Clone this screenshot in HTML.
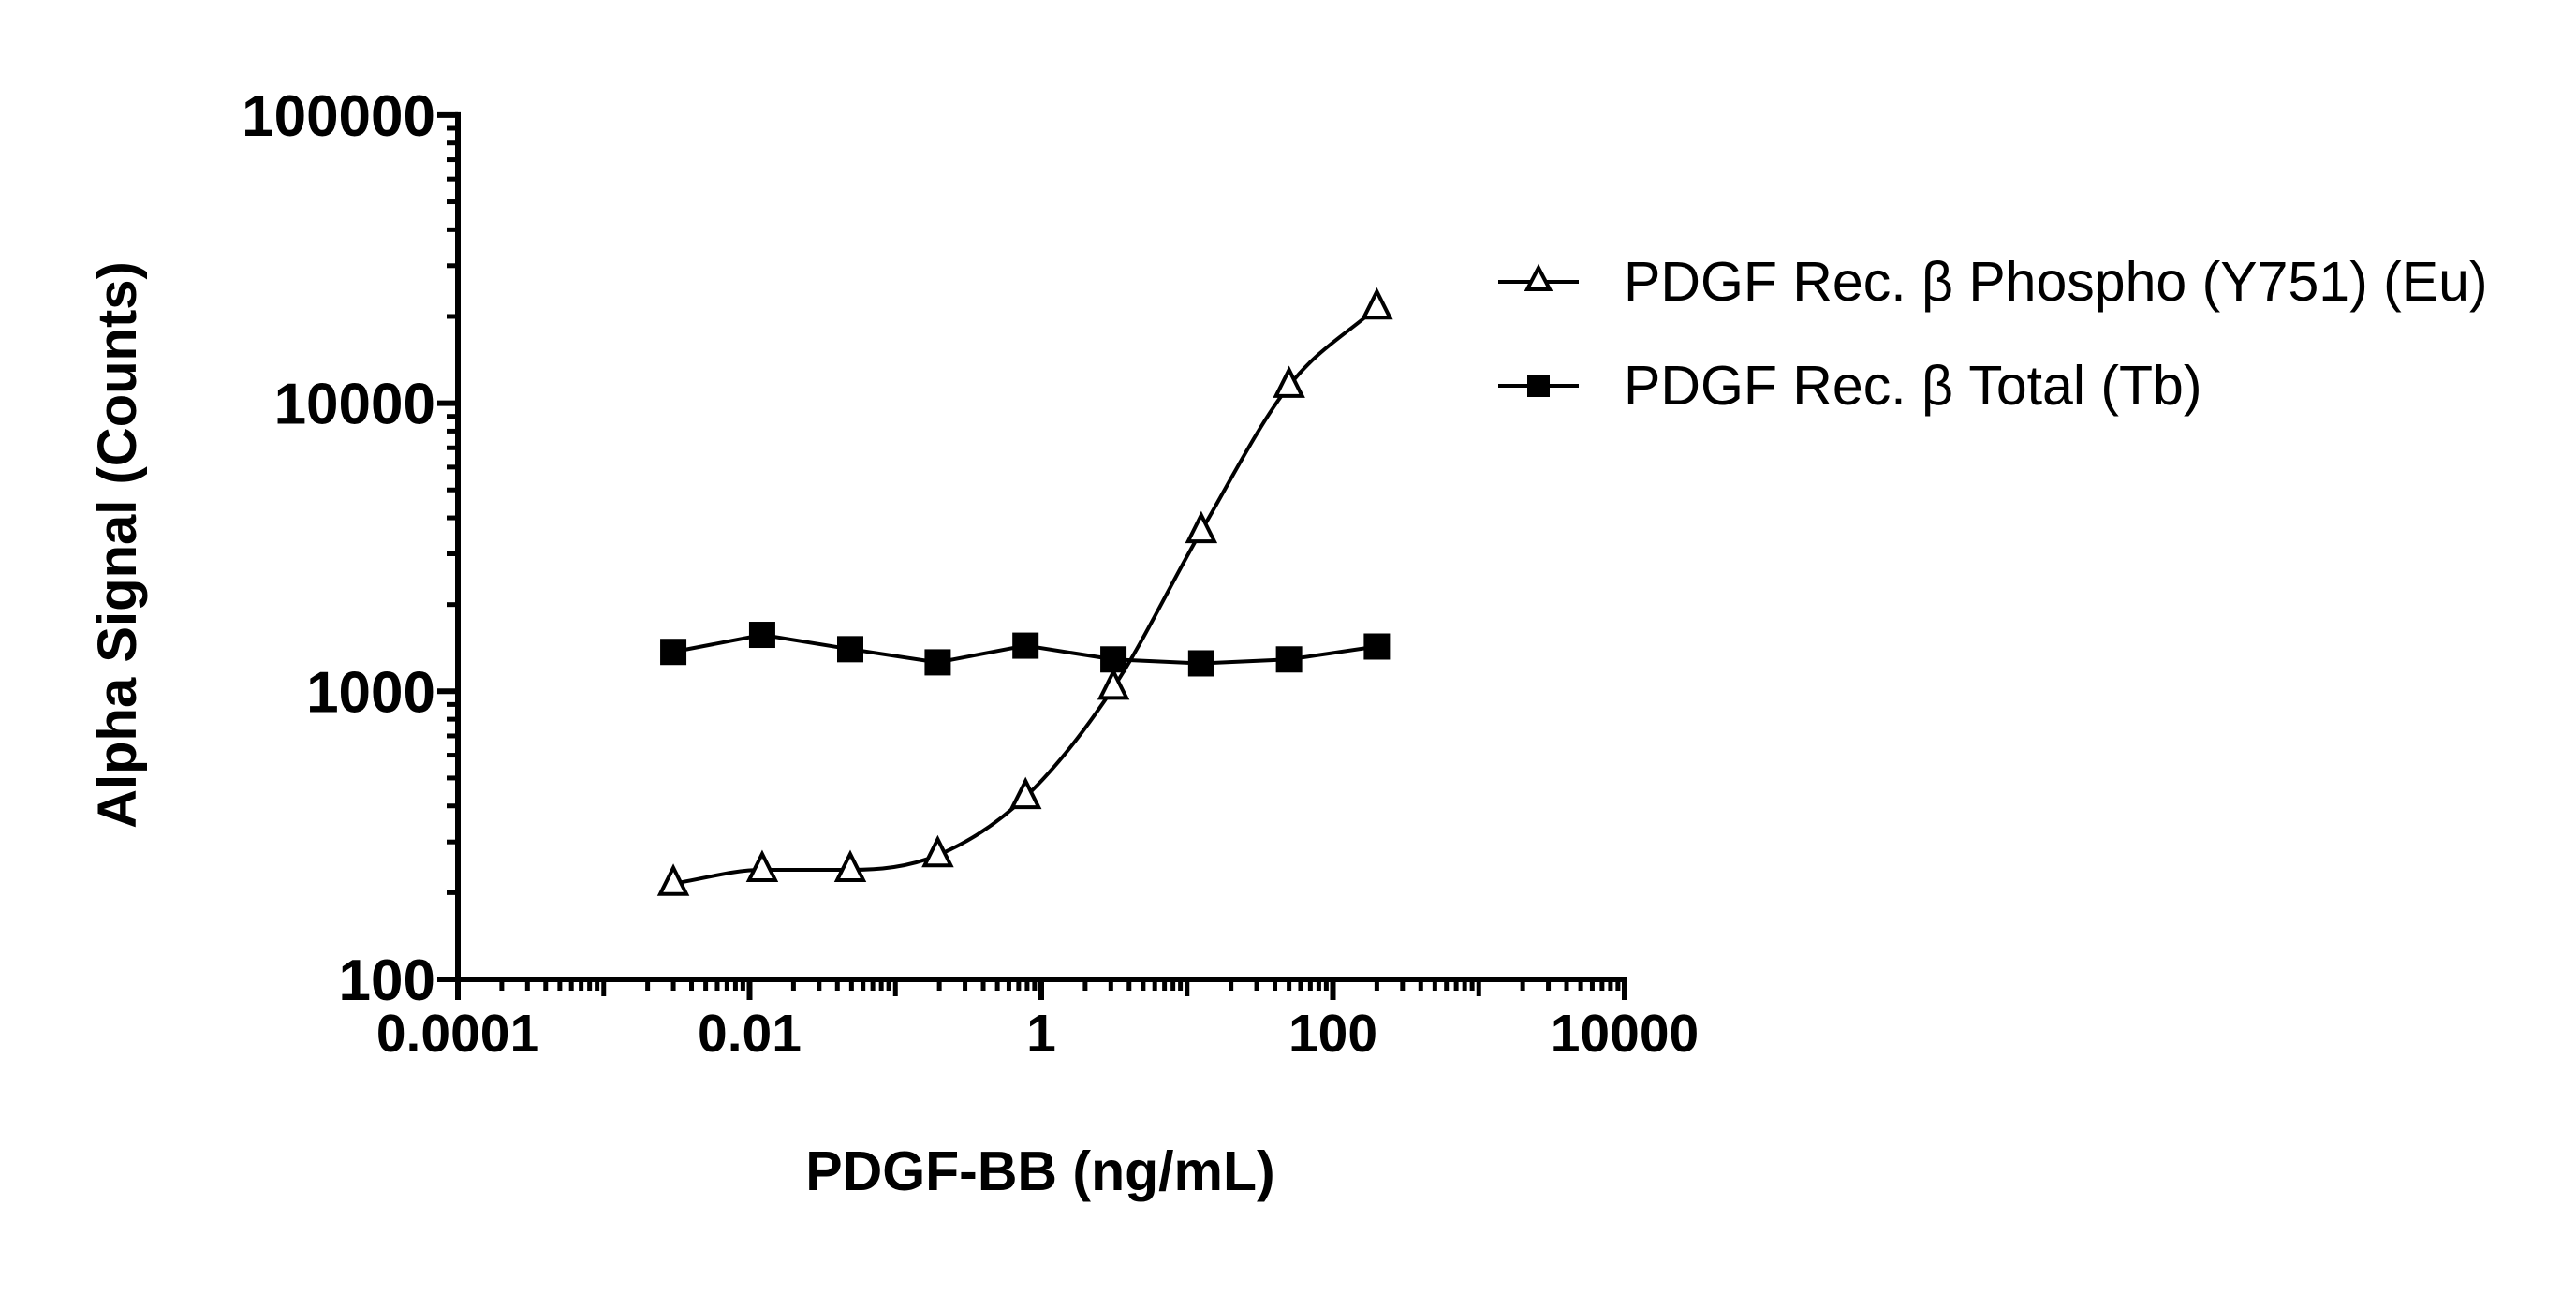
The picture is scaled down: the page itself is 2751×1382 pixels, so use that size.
<!DOCTYPE html>
<html><head><meta charset="utf-8"><style>
html,body{margin:0;padding:0;background:#fff;}
svg{display:block;font-family:"Liberation Sans",sans-serif;}
</style></head><body>
<svg id="chart" width="2751" height="1382" viewBox="0 0 2751 1382" xmlns="http://www.w3.org/2000/svg">
<g id="axes"></g>
<g id="series"></g>
<text transform="translate(145,582) rotate(-90)" text-anchor="middle" font-size="58" font-weight="bold">Alpha Signal (Counts)</text>
<text x="1111" y="1271" text-anchor="middle" font-size="59" font-weight="bold">PDGF-BB (ng/mL)</text>
<g>
<g>
<line x1="1600" y1="301" x2="1686" y2="301" stroke="#000" stroke-width="4"/>
<polygon points="1643,286 1655,309 1631,309" fill="#fff" stroke="#000" stroke-width="4"/>
<text x="1734" y="321" font-size="59">PDGF Rec. β Phospho (Y751) (Eu)</text>
</g>
<g>
<line x1="1600" y1="412" x2="1686" y2="412" stroke="#000" stroke-width="4"/>
<rect x="1631" y="400" width="24" height="24" fill="#000"/>
<text x="1734" y="432" font-size="59">PDGF Rec. β Total (Tb)</text>
</g>
</g>
</svg>
<script>
const concentrations = [0.003, 0.0122, 0.049, 0.195, 0.78, 3.125, 12.5, 50, 200];
const phosphoValues = [215, 240, 240, 270, 430, 1030, 3600, 11500, 21500];
const totalValues = [1370, 1570, 1400, 1260, 1440, 1290, 1250, 1290, 1430];
const xTickValues = [0.0001, 0.01, 1, 100, 10000];
const xTickLabels = ["0.0001", "0.01", "1", "100", "10000"];
const yTickValues = [100, 1000, 10000, 100000];
const yTickLabels = ["100", "1000", "10000", "100000"];

const NS = "http://www.w3.org/2000/svg";
const X0 = 489, XDEC = 155.75, Y0 = 1046, YDEC = 307.7;
function xs(v){ return X0 + (Math.log10(v) + 4) * XDEC; }
function ys(v){ return Y0 - (Math.log10(v) - 2) * YDEC; }
function mk(tag, attrs, parent){ const e = document.createElementNS(NS, tag); for (const k in attrs) e.setAttribute(k, attrs[k]); parent.appendChild(e); return e; }

const axes = document.getElementById('axes');
const xAxis = mk('line', {x1: X0 - 3, y1: Y0, x2: xs(10000) + 3, y2: Y0, stroke: '#000', 'stroke-width': 6}, axes);


const yAxis = mk('line', {x1: X0, y1: ys(100000) - 3, x2: X0, y2: Y0 + 3, stroke: '#000', 'stroke-width': 6}, axes);



for (let d = -4; d < 4; d++) {
  for (let m = 1; m <= 9; m++) {
    const v = m * Math.pow(10, d);
    if (m === 1 && d % 2 === 0) continue;
    const len = m === 1 ? 18 : 12;
    const t = mk('line', {x1: xs(v), y1: Y0, x2: xs(v), y2: Y0 + len, stroke: '#000', 'stroke-width': 5}, axes);
    
    
  }
}
xTickValues.forEach((v, i) => {
  const t = mk('line', {x1: xs(v), y1: Y0, x2: xs(v), y2: Y0 + 22, stroke: '#000', 'stroke-width': 6}, axes);
  
  
  const l = mk('text', {x: xs(v), y: Y0 + 77, 'text-anchor': 'middle', 'font-size': 57, 'font-weight': 'bold'}, axes);
  l.textContent = xTickLabels[i];
  
  
});
for (let d = 2; d < 5; d++) {
  for (let m = 2; m <= 9; m++) {
    const v = m * Math.pow(10, d);
    const t = mk('line', {x1: X0, y1: ys(v), x2: X0 - 12, y2: ys(v), stroke: '#000', 'stroke-width': 5}, axes);
    
    
  }
}
yTickValues.forEach((v, i) => {
  const t = mk('line', {x1: X0, y1: ys(v), x2: X0 - 22, y2: ys(v), stroke: '#000', 'stroke-width': 6}, axes);
  
  
  const l = mk('text', {x: X0 - 24, y: ys(v) + 22, 'text-anchor': 'end', 'font-size': 62, 'font-weight': 'bold'}, axes);
  l.textContent = yTickLabels[i];
  
  
});

const series = document.getElementById('series');
// monotone cubic (Fritsch-Carlson) through phospho points in screen space
const px = concentrations.map(c => xs(c));
const py = phosphoValues.map(v => ys(v));
const n = px.length;
const dl = [], m = [];
for (let i = 0; i < n - 1; i++) dl.push((py[i + 1] - py[i]) / (px[i + 1] - px[i]));
m[0] = dl[0]; m[n - 1] = dl[n - 2];
for (let i = 1; i < n - 1; i++) m[i] = (dl[i - 1] * dl[i] <= 0) ? 0 : (dl[i - 1] + dl[i]) / 2;
for (let i = 0; i < n - 1; i++) {
  if (dl[i] === 0) { m[i] = 0; m[i + 1] = 0; continue; }
  const a = m[i] / dl[i], b = m[i + 1] / dl[i], s = a * a + b * b;
  if (s > 9) { const t = 3 / Math.sqrt(s); m[i] = t * a * dl[i]; m[i + 1] = t * b * dl[i]; }
}
let d = 'M' + px[0] + ',' + py[0];
for (let i = 0; i < n - 1; i++) {
  const h = (px[i + 1] - px[i]) / 3;
  d += ' C' + (px[i] + h) + ',' + (py[i] + m[i] * h) + ' ' + (px[i + 1] - h) + ',' + (py[i + 1] - m[i + 1] * h) + ' ' + px[i + 1] + ',' + py[i + 1];
}
const curve = mk('path', {d: d, fill: 'none', stroke: '#000', 'stroke-width': 4}, series);



const tp = concentrations.map((c, i) => xs(c) + ',' + ys(totalValues[i])).join(' ');
const tline = mk('polyline', {points: tp, fill: 'none', stroke: '#000', 'stroke-width': 4}, series);



concentrations.forEach((c, i) => {
  const x = xs(c), y = ys(totalValues[i]);
  const r = mk('rect', {x: x - 14, y: y - 14, width: 28, height: 28, fill: '#000'}, series);
  
  
});
concentrations.forEach((c, i) => {
  const x = xs(c), y = ys(phosphoValues[i]);
  const t = mk('polygon', {points: `${x},${y - 17} ${x + 14},${y + 11} ${x - 14},${y + 11}`, fill: '#fff', stroke: '#000', 'stroke-width': 4}, series);
  
  
});
</script>
</body></html>
